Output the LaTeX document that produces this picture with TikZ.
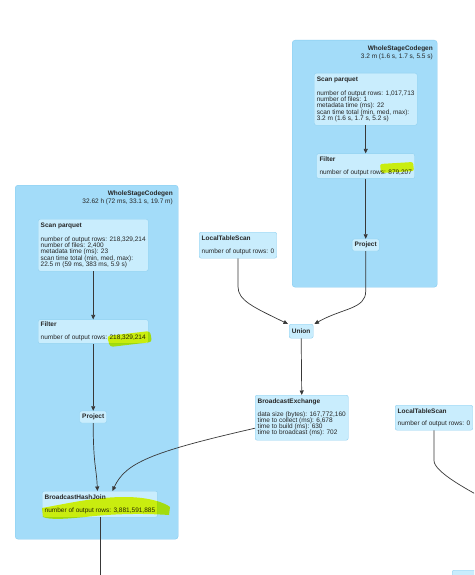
\documentclass[tikz,border=0pt]{standalone}
\usepackage{fontspec}
\setmainfont{Liberation Sans}
\usetikzlibrary{arrows.meta, positioning}
\definecolor{cClu}{HTML}{A3DCF9}
\definecolor{cCluLine}{HTML}{86CCF0}
\definecolor{cOp}{HTML}{C9EDFD}
\definecolor{cOpLine}{HTML}{8FD0F0}
\definecolor{cEdge}{HTML}{383838}
\definecolor{cHi}{HTML}{FFFF10}

\begin{document}
\begin{tikzpicture}[x=1pt, y=-1pt,
  font=\fontsize{6.5}{6.3}\selectfont, >={Triangle[length=4.5pt, width=4pt]},
  cluster/.style={draw=cCluLine, fill=cClu, rounded corners=3pt, anchor=north west, inner sep=0pt},
  op/.style={draw=cOpLine, fill=cOp, rounded corners=2pt, align=left, inner xsep=2.5pt, inner ysep=2pt, text=black!85},
  head/.style={align=right, anchor=north east, inner sep=0pt, text=black!85},
  flow/.style={->, draw=cEdge, line width=0.7pt},
  wire/.style={draw=cEdge, line width=0.7pt},
  hilite/.style={fill=cHi, blend mode=multiply},
]
\fill[white] (0,0) rectangle (474,575);
\useasboundingbox (0,0) rectangle (474,575);
\clip (0,0) rectangle (474,575);

% the two codegen stages
\node[cluster, minimum width=163pt, minimum height=354pt] (stageL) at (15,185) {};
\node[cluster, minimum width=145pt, minimum height=247pt] (stageR) at (292,40) {};
\node[head] (stageLHead) at (173,191) {\textbf{WholeStageCodegen}\\[0.8pt]32.62 h (72 ms, 33.1 s, 19.7 m)};
\node[head] (stageRHead) at (433,46) {\textbf{WholeStageCodegen}\\[0.8pt]3.2 m (1.6 s, 1.7 s, 5.5 s)};

% left stage: scan -> filter -> project
\node[op, anchor=north west, minimum width=110pt, minimum height=52pt] (scanL) at (38,219)
  {\textbf{Scan parquet}\\[8pt] number of output rows: 218,329,214\\ number of files: 2,400\\
   metadata time (ms): 23\\ scan time total (min, med, max):\\ 22.5 m (59 ms, 383 ms, 5.9 s)};
\node[op, below=48pt of scanL, minimum width=110pt, minimum height=24pt] (filterL)
  {\textbf{Filter}\\[7pt] number of output rows: 218,329,214};
\node[op, below=67pt of filterL, minimum height=12pt, inner ysep=1pt] (projectL) {\textbf{Project}};

% right stage: scan -> filter -> project
\node[op, anchor=north west, minimum width=103pt, minimum height=52pt] (scanR) at (314,73)
  {\textbf{Scan parquet}\\[8pt] number of output rows: 1,017,713\\ number of files: 1\\
   metadata time (ms): 22\\ scan time total (min, med, max):\\ 3.2 m (1.6 s, 1.7 s, 5.2 s)};
\node[op, below=28pt of scanR, minimum width=98pt, minimum height=25pt] (filterR)
  {\textbf{Filter}\\[7pt] number of output rows: 879,207};
\node[op, below=60pt of filterR, minimum height=12pt, inner ysep=1pt] (projectR) {\textbf{Project}};

% union, broadcast, join
\node[op, anchor=north west, minimum width=77pt, minimum height=26pt] (scanLocal) at (199,232)
  {\textbf{LocalTableScan}\\[6pt] number of output rows: 0};
\node[op, anchor=north west, minimum width=24pt, minimum height=14pt, inner ysep=1pt] (union) at (289,324) {\textbf{Union}};
\node[op, anchor=north west, minimum width=93pt, minimum height=45pt] (bcast) at (255,395)
  {\textbf{BroadcastExchange}\\[6pt] data size (bytes): 167,772,160\\ time to collect (ms): 6,678\\
   time to build (ms): 630\\ time to broadcast (ms): 702};
\node[op, anchor=north west, minimum width=115pt, minimum height=26pt] (join) at (42,491)
  {\textbf{BroadcastHashJoin}\\[6pt] number of output rows: 3,881,591,885};
\node[op, anchor=north west, minimum width=77pt, minimum height=25pt] (scanLocal2) at (395,405)
  {\textbf{LocalTableScan}\\[6pt] number of output rows: 0};
\node[op, anchor=north west, minimum width=80pt, minimum height=26pt] (join2) at (452,570)
  {\textbf{BroadcastHashJoin}};

\coordinate (bcastOut) at ([yshift=-10.5pt]bcast.west);
\coordinate (joinOut) at ([yshift=-70pt]join.south);
\coordinate (local2Out) at (492,503);

% edges
\draw[flow] (scanL.south) -- (filterL.north);
\draw[flow] (filterL.south) -- (projectL.north);
\draw[flow] (projectL.south) .. controls +(0,42) and +(-1,-24) .. ([xshift=-2.5pt]join.north);
\draw[flow] (bcastOut) .. controls +(-105,24) and +(13,-28) .. ([xshift=12.5pt]join.north);
\draw[wire] (join.south) -- (joinOut);
\draw[flow] (scanR.south) -- (filterR.north);
\draw[flow] (filterR.south) -- (projectR.north);
\draw[flow] (scanLocal.south) -- ++(0,28) .. controls +(0,14) and +(-35,-17) .. ([xshift=-1pt]union.north west);
\draw[flow] (projectR.south) -- ++(0,40) .. controls +(0,18) and +(28,-16) .. ([xshift=1pt]union.north east);
\draw[flow] (union.south) -- (bcast.north);
\draw[wire] (scanLocal2.south) -- ++(0,30) .. controls +(0,12) and +(-22,-12) .. (local2Out);

% highlighter strokes
\fill[hilite, rounded corners=2pt] (380,164) -- (413,162) -- (414,171) -- (381,173) -- cycle;
\fill[hilite, rounded corners=3pt] (107,336) -- (150,331) -- (152,342) -- (110,347) -- cycle;
\fill[hilite] (42,508) .. controls (70,503) and (95,497) .. (125,497) .. controls (150,497) and (165,503) .. (170,507)
  -- (169,515) .. controls (140,513) and (110,514) .. (85,517) .. controls (65,519) and (50,520) .. (43,517) -- cycle;

\end{tikzpicture}
\end{document}
